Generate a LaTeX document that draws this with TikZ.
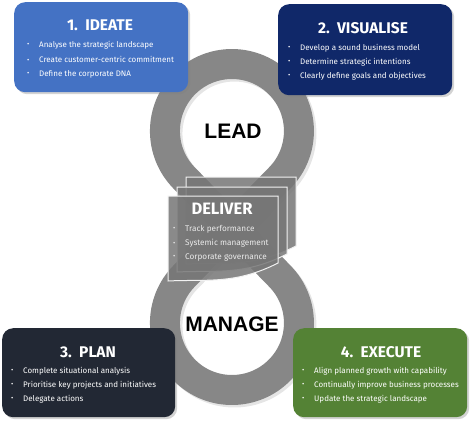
\documentclass[tikz,border=0pt]{standalone}
\usepackage{fontspec}
\setmainfont{Fira Sans}
\newfontfamily\bigfont{Liberation Sans}
\usetikzlibrary{shadows}
\definecolor{ringgray}{RGB}{135,135,135}
\definecolor{ideate}{RGB}{68,114,196}
\definecolor{visual}{RGB}{16,40,105}
\definecolor{plan}{RGB}{34,40,52}
\definecolor{execg}{RGB}{84,130,53}
\definecolor{cardgray}{RGB}{118,118,118}
\tikzset{
  box/.style={rounded corners=11pt, inner sep=0, anchor=north west,
    drop shadow={opacity=0.35, shadow xshift=2pt, shadow yshift=-2pt}},
  boxtitle/.style={text=white, font=\fontsize{15.5}{18}\selectfont\bfseries, anchor=center, inner sep=0},
  item/.style={text=white, font=\fontsize{8}{10}\selectfont, anchor=west, inner sep=0},
  ditem/.style={text=white!92!black, font=\fontsize{8.2}{10}\selectfont, anchor=west, inner sep=0},
  ringword/.style={font=\bigfont\bfseries\fontsize{21}{24}\selectfont, anchor=center, inner sep=0},
  band/.style={line width=30pt, line join=round},
  card/.style={fill=cardgray, fill opacity=0.85, draw=white!90!gray, line width=1pt}
}
\newcommand{\bl}{\makebox[12pt][l]{\raisebox{0.3pt}{\scriptsize\textbullet}}}
\begin{document}
\begin{tikzpicture}[x=1pt,y=-1pt]
\useasboundingbox (0,0) rectangle (474,424);
% figure-eight band (shadow + band)
\draw[band, black, opacity=0.10, shift={(2.5,2.5)}]
  (184,177.8) arc[start angle=135.7, end angle=404.3, radius=67]
  -- (184,276.2) arc[start angle=224.3, end angle=-44.3, radius=67] -- cycle;
\draw[band, ringgray]
  (184,177.8) arc[start angle=135.7, end angle=404.3, radius=67]
  -- (184,276.2) arc[start angle=224.3, end angle=-44.3, radius=67] -- cycle;
\node[ringword] (lead) at (233,131) {LEAD};
\node[ringword] (manage) at (232,324) {MANAGE};
% deliver cards
\draw[card] (186,177) -- (296,177) -- (296,246) .. controls (253,268) and (223,262) .. (186,264) -- cycle;
\draw[card] (177,187) -- (287,187) -- (287,254) .. controls (244,276) and (214,270) .. (177,272) -- cycle;
\draw[card] (168,196) -- (278,196) -- (278,263) .. controls (235,285) and (205,279) .. (168,281) -- cycle;
\node[boxtitle, font=\fontsize{16.5}{19}\selectfont\bfseries] (dtitle) at (222,209) {DELIVER};
\node[ditem] (d1) at (173,229) {\bl Track performance};
\node[ditem] (d2) at (173,243) {\bl Systemic management};
\node[ditem] (d3) at (173,257) {\bl Corporate governance};
% box 1
\node[box, fill=ideate, minimum width=174pt, minimum height=90pt] (b1) at (14,2) {};
\node[boxtitle] (t1) at (100,25) {1.\ \ IDEATE};
\node[item] (i11) at (27,45) {\bl Analyse the strategic landscape};
\node[item] (i12) at (27,59.5) {\bl Create customer-centric commitment};
\node[item] (i13) at (27,74) {\bl Define the corporate DNA};
% box 2
\node[box, fill=visual, minimum width=174pt, minimum height=91pt] (b2) at (278,4) {};
\node[boxtitle] (t2) at (363,28) {2.\ \ VISUALISE};
\node[item] (i21) at (288,48) {\bl Develop a sound business model};
\node[item] (i22) at (288,62) {\bl Determine strategic intentions};
\node[item] (i23) at (288,76) {\bl Clearly define goals and objectives};
% box 3
\node[box, fill=plan, minimum width=173pt, minimum height=89pt] (b3) at (2,328) {};
\node[boxtitle] (t3) at (88,352) {3.\ \ PLAN};
\node[item] (i31) at (11,371) {\bl Complete situational analysis};
\node[item] (i32) at (11,385) {\bl Prioritise key projects and initiatives};
\node[item] (i33) at (11,399) {\bl Delegate actions};
% box 4
\node[box, fill=execg, minimum width=174pt, minimum height=89pt] (b4) at (293,328) {};
\node[boxtitle] (t4) at (381,352) {4.\ \ EXECUTE};
\node[item] (i41) at (302,371) {\bl Align planned growth with capability};
\node[item] (i42) at (302,385) {\bl Continually improve business processes};
\node[item] (i43) at (302,399) {\bl Update the strategic landscape};
\end{tikzpicture}
\end{document}
